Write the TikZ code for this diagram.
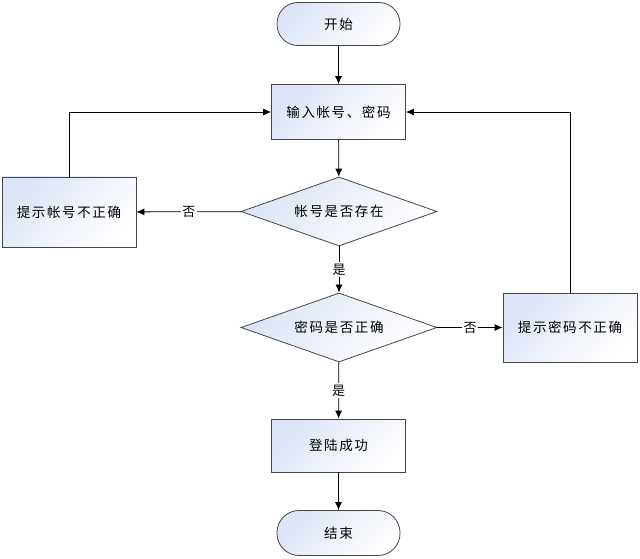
\documentclass[tikz,border=0pt]{standalone}
\usepackage{fontspec}
\newfontfamily\cjk[LetterSpace=12]{Noto Sans CJK SC}
\usetikzlibrary{shapes.geometric,arrows.meta}
\definecolor{edge}{RGB}{70,70,70}
\definecolor{shadeblue}{RGB}{220,228,245}
\tikzset{
  base/.style={draw=edge, line width=0.8pt, font=\cjk\fontsize{13.5}{15}\selectfont, inner sep=0pt,
    left color=shadeblue, right color=white, shading angle=45},
  proc/.style={base, rectangle, minimum width=134pt, minimum height=55pt},
  term/.style={base, rectangle, rounded corners=21pt, minimum width=123pt, minimum height=43pt},
  decide/.style={base, diamond, aspect=2.84, minimum width=196pt, minimum height=69pt},
  conn/.style={draw=black, line width=0.8pt, -{Latex[length=8pt,width=7pt]}},
  lbl/.style={fill=white, inner sep=1.5pt, font=\cjk\fontsize{13}{15}\selectfont}
}
\begin{document}
\begin{tikzpicture}[x=1pt,y=-1pt]
\useasboundingbox (0,0) rectangle (640,559);
\node[term] (start) at (338.5,24) {开始};
\node[proc] (input) at (338.5,112) {输入帐号、密码};
\node[decide] (d1) at (339,211.5) {帐号是否存在};
\node[proc, minimum height=70pt] (errA) at (69,212) {提示帐号不正确};
\node[decide] (d2) at (339,327.5) {密码是否正确};
\node[proc, minimum height=69pt] (errP) at (570,327.5) {提示密码不正确};
\node[proc, minimum height=53pt] (ok) at (338.5,445.5) {登陆成功};
\node[term, minimum height=45pt, rounded corners=22pt] (end) at (338.5,533) {结束};

\draw[conn] (start) -- (input);
\draw[conn] (input) -- (d1);
\draw[conn] (d1) -- node[lbl]{否} (errA);
\draw[conn] (d1) -- node[lbl]{是} (d2);
\draw[conn] (d2) -- node[lbl]{否} (errP);
\draw[conn] (d2) -- node[lbl]{是} (ok);
\draw[conn] (ok) -- (end);
\draw[conn] (errA.north) |- (input.west);
\draw[conn] (errP.north) |- (input.east);
\end{tikzpicture}
\end{document}
